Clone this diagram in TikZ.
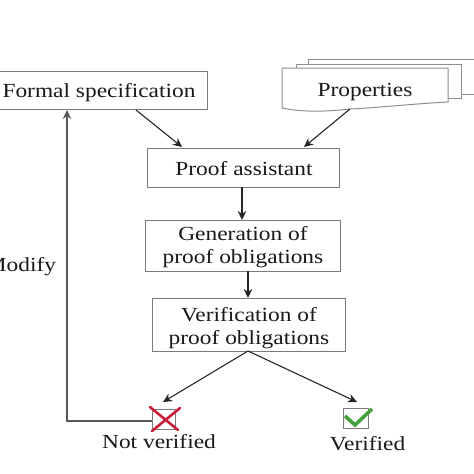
\documentclass[tikz,border=0pt]{standalone}
\usepackage{fontspec}
\setmainfont[FakeStretch=1.17]{Liberation Serif}
\usetikzlibrary{arrows.meta}
\definecolor{edge}{gray}{0.48}
\definecolor{crossred}{RGB}{200,30,55}
\definecolor{checkgreen}{RGB}{70,160,60}
\tikzset{
 x=1pt,y=-1pt,
 flow/.style={draw=edge,line width=1pt,fill=white},
 lbl/.style={inner sep=0pt,text=black!90,font=\fontsize{20}{23.5}\selectfont,align=center},
 conn/.style={draw=black!85,line width=1.1pt,-{Stealth[length=9pt,width=8.5pt]}},
 page/.style={draw=edge!85,line width=1pt,fill=white}
}
\begin{document}
\begin{tikzpicture}
\useasboundingbox (0,0) rectangle (474,474);
\clip (0,0) rectangle (474,474);
% document stack
\draw[page] (308,59) -- (480,59) -- (480,94) -- (308,94) -- cycle;
\draw[page] (296,64) -- (461,64) -- (461,98) -- (296,98) -- cycle;
\draw[page] (282,68) -- (448,68) -- (448,102) .. controls (410,104) and (375,108) .. (350,109) .. controls (325,112) and (300,112) .. (282,108) -- cycle;
\node[lbl] (properties) at (365,92) {Properties};
% boxes
\draw[flow] (-2,71) rectangle (207,109);
\node[lbl] (formal) at (99,93) {Formal specification};
\draw[flow] (147,148) rectangle (339,187);
\node[lbl] (assistant) at (244,169) {Proof assistant};
\draw[flow] (145,220) rectangle (340,271);
\node[lbl] (generation) at (243,247) {Generation of\\proof obligations};
\draw[flow] (152,298) rectangle (345,351);
\node[lbl] (verification) at (249,328) {Verification of\\proof obligations};
% named connector ends
\coordinate (f1) at (136,110); \coordinate (a1) at (182,147);
\coordinate (p1) at (350,109); \coordinate (a2) at (304,147);
\coordinate (a3) at (242,187); \coordinate (g1) at (242,220);
\coordinate (g2) at (248,271); \coordinate (v1) at (248,298);
\coordinate (v2) at (248,351); \coordinate (x1) at (163,402); \coordinate (c1) at (357,402);
\coordinate (x2) at (152,421); \coordinate (cr) at (67,421); \coordinate (f2) at (67,110);
\draw[conn] (f1) -- (a1);
\draw[conn] (p1) -- (a2);
\draw[conn] (a3) -- (g1);
\draw[conn] (g2) -- (v1);
\draw[conn] (v2) -- (x1);
\draw[conn] (v2) -- (c1);
\draw[conn,draw=black!65] (x2) -- (cr) -- (f2);
% check boxes
\draw[draw=edge,line width=1pt] (152,409) rectangle (175,429);
\draw[draw=edge,line width=1pt] (343,408) rectangle (368,428);
\draw[draw=crossred,line width=2.6pt,line cap=round] (150,407) -- (178,430) (180,408) -- (152,431);
\draw[draw=checkgreen,line width=3.6pt,line join=miter] (345,416) -- (355,425) -- (372,409);
% labels
\node[lbl] (notverified) at (159,442) {Not verified};
\node[lbl] (verified) at (367.5,444) {Verified};
\node[lbl] (modify) at (21,267) {Modify};
\end{tikzpicture}
\end{document}
